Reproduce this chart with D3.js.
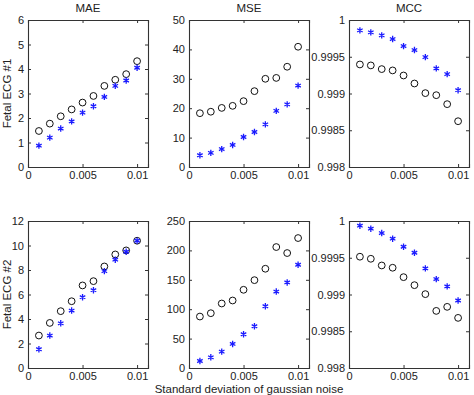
<!DOCTYPE html>
<html>
<head>
<meta charset="utf-8">
<script src="https://cdn.jsdelivr.net/npm/d3@7"></script>
<style>
  body { margin: 0; background: #fff; }
  text { font-family: "Liberation Sans", Arial, sans-serif; fill: #222; }
</style>
</head>
<body>
<svg id="chart"></svg>
<script>
const noise = [0.001, 0.002, 0.003, 0.004, 0.005, 0.006, 0.007, 0.008, 0.009, 0.01];
const xTicks = [0, 0.005, 0.01];
const titles = ["MAE", "MSE", "MCC"];
const rowLabels = ["Fetal ECG #1", "Fetal ECG #2"];

// row 1 (Fetal ECG #1)
const mae1Circle = [1.47, 1.77, 2.07, 2.35, 2.63, 2.9, 3.31, 3.56, 3.79, 4.32];
const mae1Star = [0.87, 1.2, 1.57, 1.86, 2.22, 2.48, 2.86, 3.31, 3.53, 4.05];
const mse1Circle = [18.3, 18.8, 20.1, 20.8, 22.4, 25.8, 30.0, 30.3, 34.1, 40.9];
const mse1Star = [4.0, 4.8, 6.1, 7.5, 10.2, 11.9, 14.5, 19.1, 21.3, 27.7];
const mcc1Circle = [0.999395, 0.999382, 0.999332, 0.999314, 0.999245, 0.999136, 0.999005, 0.998977, 0.998855, 0.998623];
const mcc1Star = [0.999859, 0.999832, 0.999791, 0.999741, 0.999645, 0.999591, 0.999495, 0.999341, 0.999264, 0.999045];

// row 2 (Fetal ECG #2)
const mae2Circle = [2.65, 3.68, 4.64, 5.45, 6.74, 7.09, 8.29, 9.27, 9.6, 10.39];
const mae2Star = [1.53, 2.65, 3.65, 4.69, 5.78, 6.35, 7.91, 8.84, 9.49, 10.39];
const mse2Circle = [87.5, 93.2, 109.7, 114.8, 133, 149.4, 168.8, 205.7, 195.5, 221];
const mse2Star = [11.9, 18.2, 27.8, 40.9, 57.4, 71, 105, 130, 145.5, 175.6];
const mcc2Circle = [0.999514, 0.999486, 0.999395, 0.999364, 0.999236, 0.999127, 0.999005, 0.998777, 0.998832, 0.998682];
const mcc2Star = [0.999936, 0.999895, 0.999836, 0.999759, 0.99965, 0.999568, 0.999355, 0.99921, 0.99911, 0.998918];

// y tick labels per panel
const yTicksMae1 = [0, 1, 2, 3, 4, 5, 6];
const yTicksMse1 = [0, 10, 20, 30, 40, 50];
const yTicksMcc = [0.998, 0.9985, 0.999, 0.9995, 1];
const yTicksMae2 = [0, 2, 4, 6, 8, 10, 12];
const yTicksMse2 = [0, 50, 100, 150, 200, 250];

const panels = [
  { row: 0, col: 0, circle: mae1Circle, star: mae1Star, ticks: yTicksMae1 },
  { row: 0, col: 1, circle: mse1Circle, star: mse1Star, ticks: yTicksMse1 },
  { row: 0, col: 2, circle: mcc1Circle, star: mcc1Star, ticks: yTicksMcc },
  { row: 1, col: 0, circle: mae2Circle, star: mae2Star, ticks: yTicksMae2 },
  { row: 1, col: 1, circle: mse2Circle, star: mse2Star, ticks: yTicksMse2 },
  { row: 1, col: 2, circle: mcc2Circle, star: mcc2Star, ticks: yTicksMcc }
];

const width = 474, height = 395;
const colLeft = [28, 189, 349];
const rowTop = [20, 221];
const pw = 120, ph = 147;

const svg = d3.select("#chart")
  .attr("width", width)
  .attr("height", height);

panels.forEach(p => {
  const g = svg.append("g")
    .attr("transform", "translate(" + colLeft[p.col] + "," + rowTop[p.row] + ")");

  const x = d3.scaleLinear().domain([0, 0.011]).range([0, pw]);
  const y = d3.scaleLinear()
    .domain([p.ticks[0], p.ticks[p.ticks.length - 1]])
    .range([ph, 0]);

  // box with inward ticks (matlab style)
  g.append("g")
    .attr("transform", "translate(0," + ph + ")")
    .call(d3.axisBottom(x).tickValues(xTicks).tickSize(-3).tickPadding(4).tickFormat(d => String(d)));
  g.append("g")
    .call(d3.axisTop(x).tickValues(xTicks).tickSize(-3).tickFormat(""));
  g.append("g")
    .call(d3.axisLeft(y).tickValues(p.ticks).tickSize(-3).tickPadding(4).tickFormat(d => String(d)));
  g.append("g")
    .attr("transform", "translate(" + pw + ",0)")
    .call(d3.axisRight(y).tickValues(p.ticks).tickSize(-3).tickFormat(""));

  g.selectAll(".domain").attr("stroke", "#333").attr("stroke-width", 1.1);
  g.selectAll(".tick line").attr("stroke", "#333");
  g.selectAll(".tick text")
    .style("font-size", "11px")
    .attr("fill", "#222");

  // open circles
  g.selectAll("circle.mk")
    .data(p.circle)
    .join("circle")
    .attr("class", "mk")
    .attr("cx", (d, i) => x(noise[i]))
    .attr("cy", d => y(d))
    .attr("r", 3.4)
    .attr("fill", "none")
    .attr("stroke", "#111")
    .attr("stroke-width", 1);

  // blue asterisks
  const star = d3.symbol().type(d3.symbolAsterisk).size(28);
  g.selectAll("path.st")
    .data(p.star)
    .join("path")
    .attr("class", "st")
    .attr("transform", (d, i) => "translate(" + x(noise[i]) + "," + y(d) + ")")
    .attr("d", star)
    .attr("fill", "none")
    .attr("stroke", "#1a1aff")
    .attr("stroke-width", 1.3);

  if (p.row === 0) {
    g.append("text")
      .attr("x", pw / 2)
      .attr("y", -8)
      .attr("text-anchor", "middle")
      .style("font-size", "11.5px")
      .text(titles[p.col]);
  }
  if (p.col === 0) {
    g.append("text")
      .attr("transform", "translate(-17," + ph / 2 + ") rotate(-90)")
      .attr("text-anchor", "middle")
      .style("font-size", "11.5px")
      .text(rowLabels[p.row]);
  }
});

svg.append("text")
  .attr("x", 249)
  .attr("y", 393)
  .attr("text-anchor", "middle")
  .style("font-size", "11.5px")
  .text("Standard deviation of gaussian noise");
</script>
</body>
</html>
